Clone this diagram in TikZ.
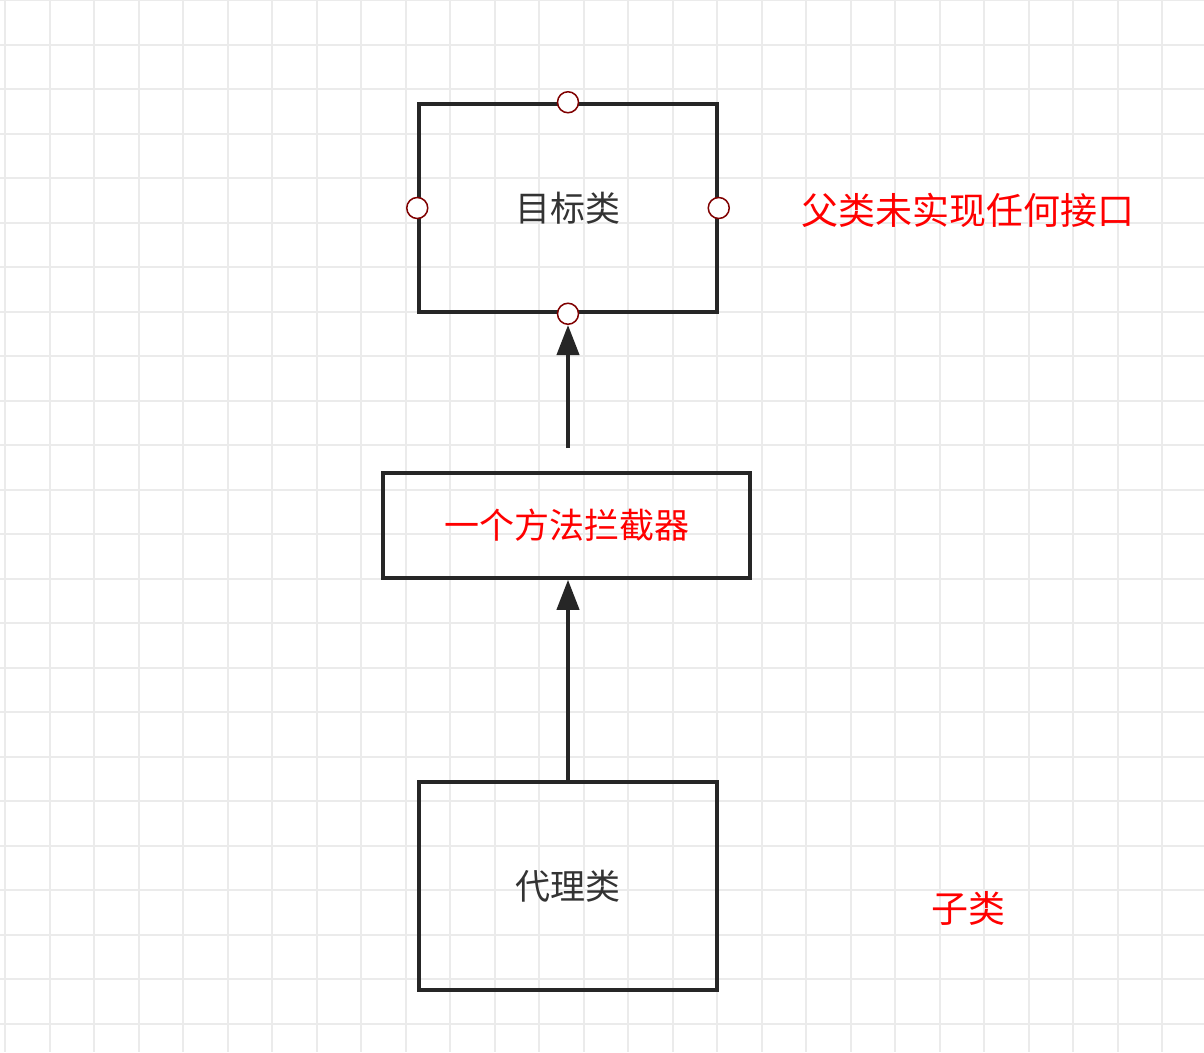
\documentclass[tikz,border=0pt]{standalone}
\usepackage{fontspec}
\newfontfamily\cjk{Noto Sans CJK SC}
\usetikzlibrary{arrows.meta}
\begin{document}
\begin{tikzpicture}[x=1pt,y=-1pt,
  box/.style={draw=black!85,line width=3.5pt,minimum width=298pt,minimum height=208pt,font=\cjk\fontsize{35}{40}\selectfont,text=black!80},
  port/.style={circle,draw=red!50!black,fill=white,line width=1.5pt,minimum size=21pt,inner sep=0pt},
  conn/.style={draw=black!85,line width=4pt,-{Triangle[length=30pt,width=22pt]}},
  note/.style={font=\cjk\fontsize{37}{42}\selectfont,text=red}]
\useasboundingbox (0,0) rectangle (1204,1052);
\fill[white] (0,0) rectangle (1204,1052);
\foreach \i in {0,...,27} {
  \draw[black!8,line width=2pt] ({5+44.5*\i},0) -- ++(0,1052);
  \draw[black!8,line width=2pt] (0,{0+44.5*\i}) -- ++(1204,0);
}
\node[box] (t) at (568,208) {目标类};
\node[box,minimum width=367pt,minimum height=105pt,text=red] (m) at (566.5,525.5) {一个方法拦截器};
\node[box] (p) at (568,886) {代理类};
\node[port] (pt) at (t.north) {};
\node[port] (pl) at (t.west) {};
\node[port] (pr) at (t.east) {};
\node[port] (pb) at (t.south) {};
\coordinate (ms) at (568,448);
\draw[conn] (ms) -- (pb.south);
\draw[conn] (p.north) -- (p.north |- m.south);
\node[note] (n1) at (968,210) {父类未实现任何接口};
\node[note] (n2) at (968,908) {子类};
\end{tikzpicture}
\end{document}
